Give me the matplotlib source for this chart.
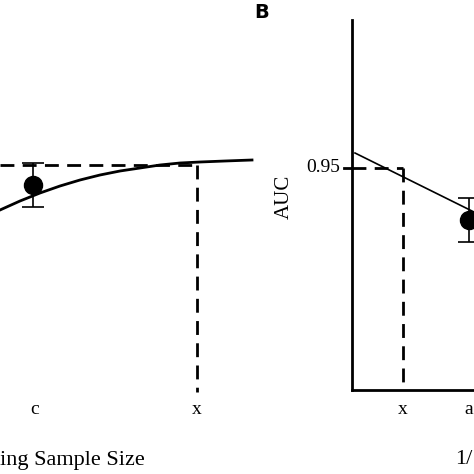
import matplotlib
matplotlib.use("Agg")
import matplotlib.pyplot as plt

# Panel A (partial): learning curve, in figure pixel coordinates
curve_x = [0, 20, 40, 60, 80, 100, 120, 140, 160, 180, 200, 225, 252]
curve_y = [210, 201, 193, 186, 180, 175, 171, 168, 165, 163, 162, 161, 160]
pointA_x, pointA_y, pointA_err = [33], [185], [22]
A_hline_x = [0, 197]; A_hline_y = [165, 165]
A_vline_x = [197, 197]; A_vline_y = [165, 392]
A_ticklabels = [("c", 35), ("x", 197)]

# Panel B (partial)
B_line_x = [355, 474]; B_line_y = [153, 212]
pointB_x, pointB_y, pointB_err = [469], [220], [22]
B_hline_x = [352, 403]; B_hline_y = [168, 168]
B_vline_x = [403, 403]; B_vline_y = [168, 390]
B_ticklabels = [("x", 403), ("a", 469)]

fig = plt.figure(figsize=(4.74, 4.74), dpi=100)
ax = fig.add_axes([0, 0, 1, 1])
ax.set_xlim(0, 474); ax.set_ylim(474, 0); ax.axis("off")
serif = "Liberation Serif"

ax.plot(curve_x, curve_y, color="black", lw=2)
ax.plot(A_hline_x, A_hline_y, "k--", lw=2, dashes=(5, 3))
ax.plot(A_vline_x, A_vline_y, "k--", lw=2, dashes=(5, 3))
ax.errorbar(pointA_x, pointA_y, yerr=pointA_err, fmt="o", color="black", ms=13, capsize=8, elinewidth=1.2, capthick=1.2)
for t, x in A_ticklabels:
    ax.text(x, 410, t, ha="center", va="center", fontsize=14, family=serif)
ax.text(0, 460, "ing Sample Size", ha="left", va="center", fontsize=16, family=serif)

# Panel B axes
ax.plot([352, 352], [20, 390], color="black", lw=2)
ax.plot([352, 474], [390, 390], color="black", lw=2)
ax.plot([344, 352], [168, 168], color="black", lw=2)
ax.text(262, 12, "B", fontsize=14, fontweight="bold", ha="center", va="center")
ax.text(340, 168, "0.95", fontsize=14, family=serif, ha="right", va="center")
ax.text(284, 197, "AUC", fontsize=15, family=serif, rotation=90, ha="center", va="center")
ax.plot(B_hline_x, B_hline_y, "k--", lw=2, dashes=(5, 3))
ax.plot(B_vline_x, B_vline_y, "k--", lw=2, dashes=(5, 3))
ax.plot(B_line_x, B_line_y, color="black", lw=1.2)
ax.errorbar(pointB_x, pointB_y, yerr=pointB_err, fmt="o", color="black", ms=13, capsize=8, elinewidth=1.2, capthick=1.2)
for t, x in B_ticklabels:
    ax.text(x, 410, t, ha="center", va="center", fontsize=14, family=serif)
ax.text(455, 460, "1/", ha="left", va="center", fontsize=16, family=serif)

fig.savefig("out.png", dpi=100)
